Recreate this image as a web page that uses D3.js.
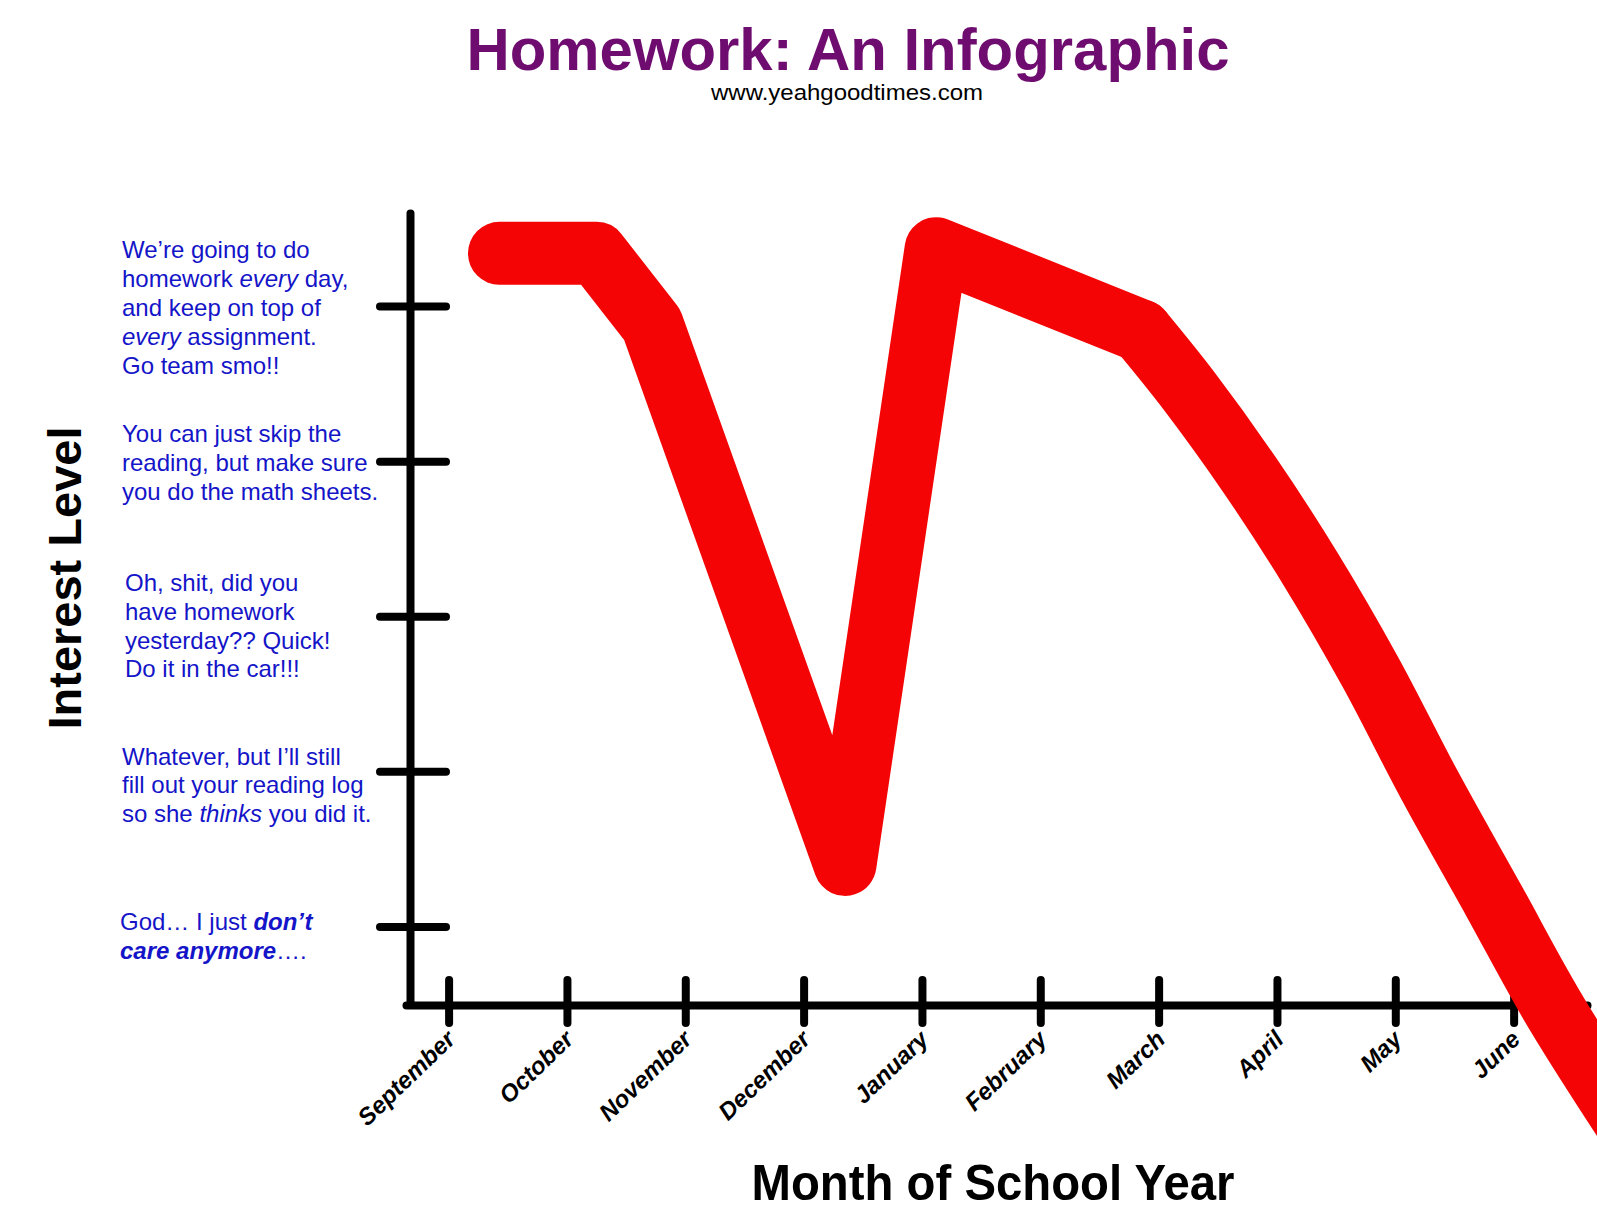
<!DOCTYPE html>
<html><head><meta charset="utf-8">
<script src="https://cdn.jsdelivr.net/npm/d3@7"></script>
<style>
html,body{margin:0;padding:0;background:#fff;}
svg{display:block;font-family:"Liberation Sans",Arial,Helvetica,sans-serif;}
</style>
</head><body>
<svg id="chart" width="1597" height="1216"></svg>
<script>
// ---- data ----
const months = ["September","October","November","December","January","February","March","April","May","June"];
const monthIndex = [0,1,2,3,4,5,6,7,8,9];
const interestLevels = [1,2,3,4,5];
// level descriptions (level 5 = top); *x* italic, **x** bold italic
const levelText = {
  5: ["We’re going to do", "homework *every* day,", "and keep on top of", "*every* assignment.", "Go team smo!!"],
  4: ["You can just skip the", "reading, but make sure", "you do the math sheets."],
  3: ["Oh, shit, did you", "have homework", "yesterday?? Quick!", "Do it in the car!!!"],
  2: ["Whatever, but I’ll still", "fill out your reading log", "so she *thinks* you did it."],
  1: ["God… I just **don’t**", "**care anymore**…."]
};
// interest curve: month position (0 = September) and interest level
const curveMonth = [0.43, 1.25, 1.72, 3.35, 4.12, 5.85, 6.26, 6.77, 7.28, 7.79, 8.29, 8.83, 9.37, 10.41];
const curveLevel = [5.34, 5.34, 4.88, 1.40, 5.37, 4.84, 4.45, 3.91, 3.31, 2.64, 1.91, 1.17, 0.43, -0.80];
// the sharp hand-drawn strokes end at the March bend; the slide after it is smooth
const sharpUntil = 5;

const titleText = "Homework: An Infographic";
const subtitleText = "www.yeahgoodtimes.com";
const xTitle = "Month of School Year";
const yTitle = "Interest Level";

// ---- layout ----
const blockShift = {5: -4, 4: -4, 3: 4, 2: 8, 1: 4};
const blockX = {5: 122, 4: 122, 3: 125, 2: 122, 1: 120};

// ---- chart ----
const svg = d3.select("#chart");
const x = d3.scaleLinear().domain([-0.36, 9.62]).range([406, 1587]);
const y = d3.scaleLinear().domain([0.5, 5.6]).range([1004, 213]);
const axisX = 410, axisY = 1005;
const ink = "#000";

// y axis
const gy = svg.append("g").attr("transform", `translate(${axisX},0)`)
  .call(d3.axisLeft(y).tickValues(interestLevels).tickFormat("").tickSizeOuter(0));
gy.select(".domain").attr("stroke", ink).attr("stroke-width", 8).attr("stroke-linecap", "round");
gy.selectAll(".tick line").attr("x1", -30).attr("x2", 36)
  .attr("stroke", ink).attr("stroke-width", 8).attr("stroke-linecap", "round");

// x axis
const gx = svg.append("g").attr("transform", `translate(0,${axisY})`)
  .call(d3.axisBottom(x).tickValues(monthIndex).tickFormat("").tickSizeOuter(0));
gx.select(".domain").attr("stroke", ink).attr("stroke-width", 8).attr("stroke-linecap", "round");
gx.selectAll(".tick line").attr("y1", -25).attr("y2", 18)
  .attr("stroke", ink).attr("stroke-width", 8).attr("stroke-linecap", "round");

// level descriptions
const lineH = 28.8;
interestLevels.forEach(lv => {
  const lines = levelText[lv];
  const bx = blockX[lv];
  const first = y(lv) + 14 + blockShift[lv] - (lines.length - 1) / 2 * lineH;
  const t = svg.append("text").attr("x", bx).attr("y", first)
    .attr("fill", "#1414c8").attr("font-size", 24);
  lines.forEach((ln, i) => {
    const parts = ln.split(/(\*\*[^*]+\*\*|\*[^*]+\*)/).filter(s => s.length);
    parts.forEach((p, j) => {
      const ts = t.append("tspan");
      if (j === 0) ts.attr("x", bx).attr("y", first + i * lineH);
      if (p.startsWith("**")) { ts.text(p.slice(2, -2)).attr("font-style", "italic").attr("font-weight", "bold"); }
      else if (p.startsWith("*")) { ts.text(p.slice(1, -1)).attr("font-style", "italic"); }
      else ts.text(p);
    });
  });
});

// interest curve
const pts = curveMonth.map((m, i) => [m, curveLevel[i]]);
const sharpLine = d3.line().x(d => x(d[0])).y(d => y(d[1])).curve(d3.curveLinear);
const smoothLine = d3.line().x(d => x(d[0])).y(d => y(d[1])).curve(d3.curveCatmullRom.alpha(0.5));
const curveG = svg.append("g").attr("fill", "none").attr("stroke", "#f40404").attr("stroke-width", 63)
  .attr("stroke-linecap", "round").attr("stroke-linejoin", "round");
curveG.append("path").datum(pts.slice(0, sharpUntil + 1)).attr("d", sharpLine);
curveG.append("path").datum(pts.slice(sharpUntil)).attr("d", smoothLine);

// month labels
svg.append("g").selectAll("text").data(monthIndex).join("text")
  .attr("transform", d => `translate(${x(d) + 8},${axisY + 36}) rotate(-44)`)
  .attr("text-anchor", "end").attr("font-size", 24).attr("font-weight", "bold").attr("font-style", "italic")
  .attr("fill", ink).text(d => months[d]);

// titles
svg.append("text").attr("x", 848).attr("y", 70).attr("text-anchor", "middle")
  .attr("font-size", 60).attr("font-weight", "bold").attr("fill", "#6f0c70")
  .attr("textLength", 763).attr("lengthAdjust", "spacingAndGlyphs").text(titleText);
svg.append("text").attr("x", 847).attr("y", 100).attr("text-anchor", "middle")
  .attr("font-size", 22).attr("fill", ink)
  .attr("textLength", 272).attr("lengthAdjust", "spacingAndGlyphs").text(subtitleText);
svg.append("text").attr("x", 993).attr("y", 1200).attr("text-anchor", "middle")
  .attr("font-size", 50).attr("font-weight", "bold").attr("fill", ink)
  .attr("textLength", 483).attr("lengthAdjust", "spacingAndGlyphs").text(xTitle);
svg.append("text").attr("transform", "translate(81,578) rotate(-90)").attr("text-anchor", "middle")
  .attr("font-size", 47).attr("font-weight", "bold").attr("fill", ink).text(yTitle);
</script>
</body></html>
